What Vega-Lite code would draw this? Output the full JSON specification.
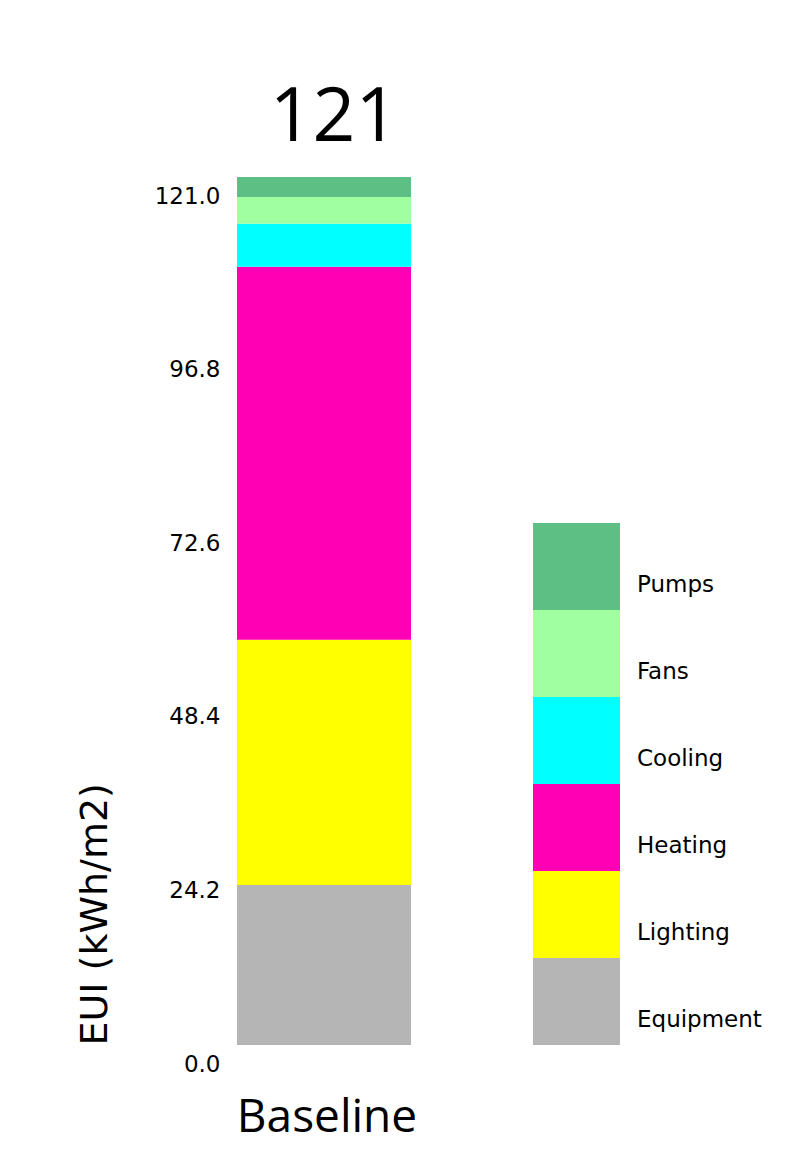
{
  "$schema": "https://vega.github.io/schema/vega-lite/v6.json",
  "autosize": {"type": "none"},
  "padding": {"left": 237, "top": 177, "right": 393, "bottom": 130},
  "width": 174,
  "height": 868,
  "background": "white",
  "title": {
    "text": "121",
    "font": "Open Sans",
    "fontSize": 75,
    "fontWeight": "normal",
    "color": "black",
    "anchor": "middle",
    "baseline": "bottom",
    "offset": -55,
    "dx": 10
  },
  "data": {
    "values": [
      {"scenario": "Baseline", "enduse": "Equipment", "eui": 22.3},
      {"scenario": "Baseline", "enduse": "Lighting", "eui": 34.2},
      {"scenario": "Baseline", "enduse": "Heating", "eui": 52.0},
      {"scenario": "Baseline", "enduse": "Cooling", "eui": 6.0},
      {"scenario": "Baseline", "enduse": "Fans", "eui": 3.7},
      {"scenario": "Baseline", "enduse": "Pumps", "eui": 2.8}
    ]
  },
  "transform": [
    {
      "calculate": "indexof(['Equipment', 'Lighting', 'Heating', 'Cooling', 'Fans', 'Pumps'], datum.enduse)",
      "as": "stack_rank"
    }
  ],
  "mark": {"type": "bar"},
  "encoding": {
    "x": {
      "field": "scenario",
      "type": "nominal",
      "title": null,
      "scale": {"paddingInner": 0, "paddingOuter": 0},
      "axis": {
        "domain": false,
        "ticks": false,
        "labelAngle": 0,
        "labelFont": "Open Sans",
        "labelFontSize": 46,
        "labelColor": "black",
        "labelPadding": 50,
        "labelBaseline": "top",
        "labelOffset": 3,
        "labelLimit": 400
      }
    },
    "y": {
      "field": "eui",
      "type": "quantitative",
      "stack": "zero",
      "title": "EUI (kWh/m2)",
      "scale": {"domain": [0, 121], "nice": false},
      "axis": {
        "values": [0, 24.2, 48.4, 72.6, 96.8, 121],
        "format": ".1f",
        "domain": false,
        "ticks": false,
        "grid": false,
        "labelFont": "DejaVu Sans",
        "labelFontSize": 23,
        "labelColor": "black",
        "labelPadding": 17,
        "labelOffset": 19,
        "titleFont": "DejaVu Sans",
        "titleFontSize": 38,
        "titleFontWeight": "normal",
        "titleColor": "black",
        "titleAnchor": "start",
        "titlePadding": 40
      }
    },
    "order": {"field": "stack_rank", "type": "quantitative", "sort": "ascending"},
    "color": {
      "field": "enduse",
      "type": "nominal",
      "scale": {
        "domain": ["Equipment", "Lighting", "Heating", "Cooling", "Fans", "Pumps"],
        "range": ["#b5b5b5", "#ffff00", "#ff00b4", "#00ffff", "#a0ffa0", "#5dbf84"]
      },
      "legend": {
        "title": null,
        "orient": "none",
        "legendX": 296,
        "legendY": 346,
        "padding": 0,
        "values": ["Pumps", "Fans", "Cooling", "Heating", "Lighting", "Equipment"],
        "symbolType": "square",
        "symbolSize": 7569,
        "symbolStrokeWidth": 0,
        "symbolOpacity": 1,
        "rowPadding": 0,
        "labelFont": "DejaVu Sans",
        "labelFontSize": 23,
        "labelColor": "black",
        "labelOffset": 17,
        "labelLimit": 300,
        "encode": {"labels": {"update": {"dy": {"value": 18}}}}
      }
    }
  },
  "config": {"view": {"stroke": null}}
}
